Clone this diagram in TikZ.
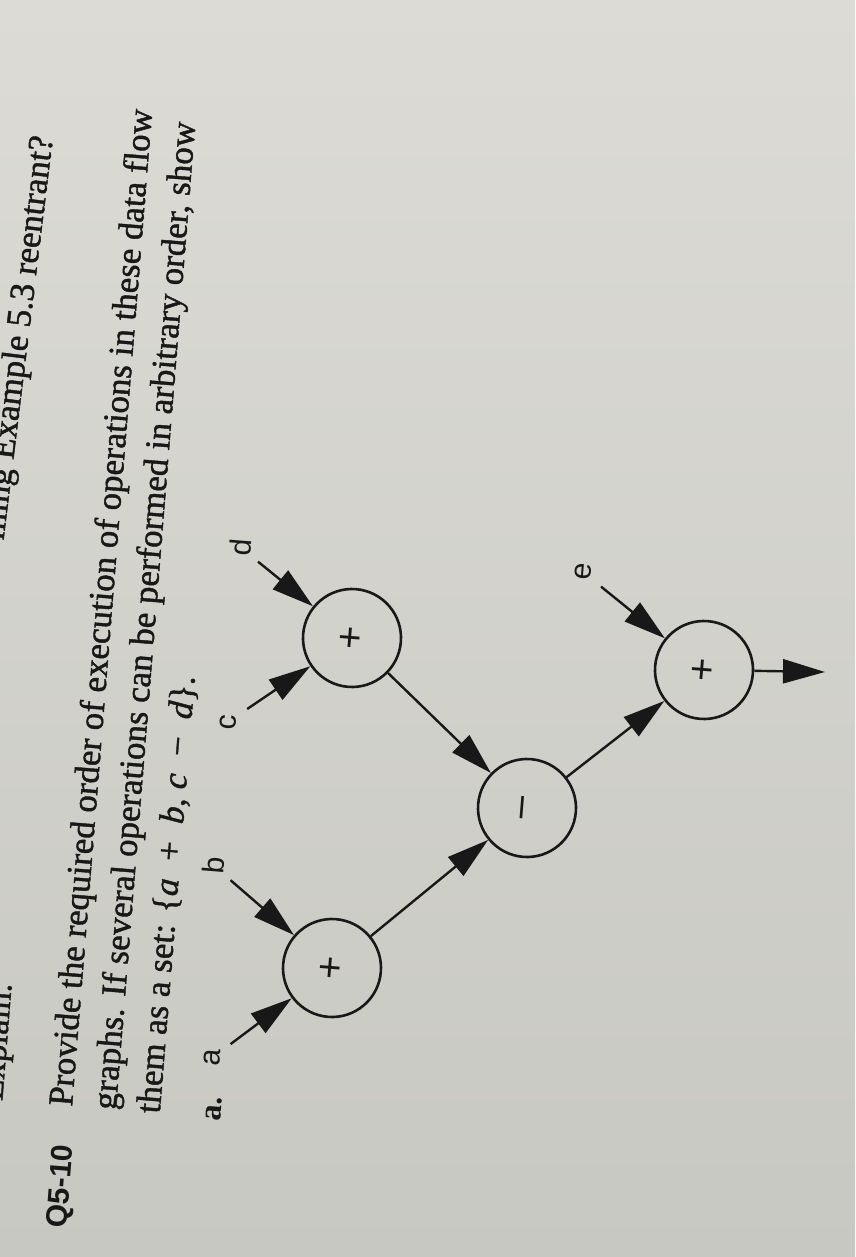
\documentclass[tikz,border=0pt]{standalone}
\usepackage{fontspec}
\setmainfont{Liberation Serif}
\setsansfont{Liberation Sans}
\newfontfamily\pagefont{Liberation Serif}[FakeBold=1.2]
\usetikzlibrary{arrows.meta, positioning}

\definecolor{ink}{RGB}{24,24,24}
\definecolor{paperlight}{RGB}{220,219,214}
\definecolor{paperdark}{RGB}{200,200,194}

\begin{document}
\begin{tikzpicture}[x=1pt, y=1pt, color=ink,
                op node/.style={draw, circle, line width=2.6pt, minimum size=98pt, inner sep=0pt,
                                font=\sffamily\fontsize{40}{40}\selectfont, rotate=85.4},
                var label/.style={circle, minimum size=46pt, inner sep=0pt,
                                  font=\sffamily\fontsize{30}{30}\selectfont, rotate=85.4},
                flow/.style={line width=2.4pt, -{Triangle[length=42pt, width=24pt]}},
                body text/.style={anchor=base west, transform shape, inner sep=0pt,
                                  font=\pagefont\fontsize{35}{35}\selectfont}]
                \useasboundingbox (0,0) rectangle (855,-1257);
                % Paper of the photographed page
                \shade[top color=paperlight, bottom color=paperdark] (0,0) rectangle (855,-1257);

                % Previous question, cut by the page edge
                \node[anchor=base east, rotate=83, inner sep=0pt, font=\pagefont\fontsize{35}{35}\selectfont]
                    (prev) at (53,-137) {ming Example 5.3 reentrant?};

                % Question text, turned with the page
                \begin{scope}[shift={(72,-1107)}, rotate=85.4]
                    \node[body text] (explain) at (0,70) {Explain.};
                    \node[body text, anchor=base east, font=\sffamily\bfseries\fontsize{30}{30}\selectfont]
                        (qnum) at (-38,-4) {Q5-10};
                    \node[body text] (line1) at (0,0) {Provide the required order of execution of operations in these data flow};
                    \node[body text] (line2) at (0,-44) {graphs. If several operations can be performed in arbitrary order, show};
                    \node[body text] (line3) at (0,-88)
                        {them as a set: \{\textit{a}\enspace+\enspace\textit{b}, \textit{c}\enspace−\enspace\textit{d}\}.};
                    \node[body text, font=\bfseries\fontsize{32}{32}\selectfont] (part) at (-3,-149) {a.};
                \end{scope}

                % Operations
                \node[op node] (add1) at (332,-968) {+};
                \node[op node] (add2) at (352,-638) {+};
                \node[op node] (sub) at (527,-808) {–};
                \node[op node] (add3) at (704,-670) {+};

                % Inputs and output
                \node[var label] (a) at (212,-1058) {a};
                \node[var label] (b) at (213,-865) {b};
                \node[var label] (c) at (228,-722) {c};
                \node[var label] (d) at (240,-547) {d};
                \node[var label] (e) at (583,-572) {e};
                \coordinate (out) at (825,-672);

                % Data flow
                \draw[flow] (a) -- (add1);
                \draw[flow] (b) -- (add1);
                \draw[flow] (c) -- (add2);
                \draw[flow] (d) -- (add2);
                \draw[flow] (add1) -- (sub);
                \draw[flow] (add2) -- (sub);
                \draw[flow] (sub) -- (add3);
                \draw[flow] (e) -- (add3);
                \draw[flow] (add3) -- (out);
            \end{tikzpicture}
\end{document}
